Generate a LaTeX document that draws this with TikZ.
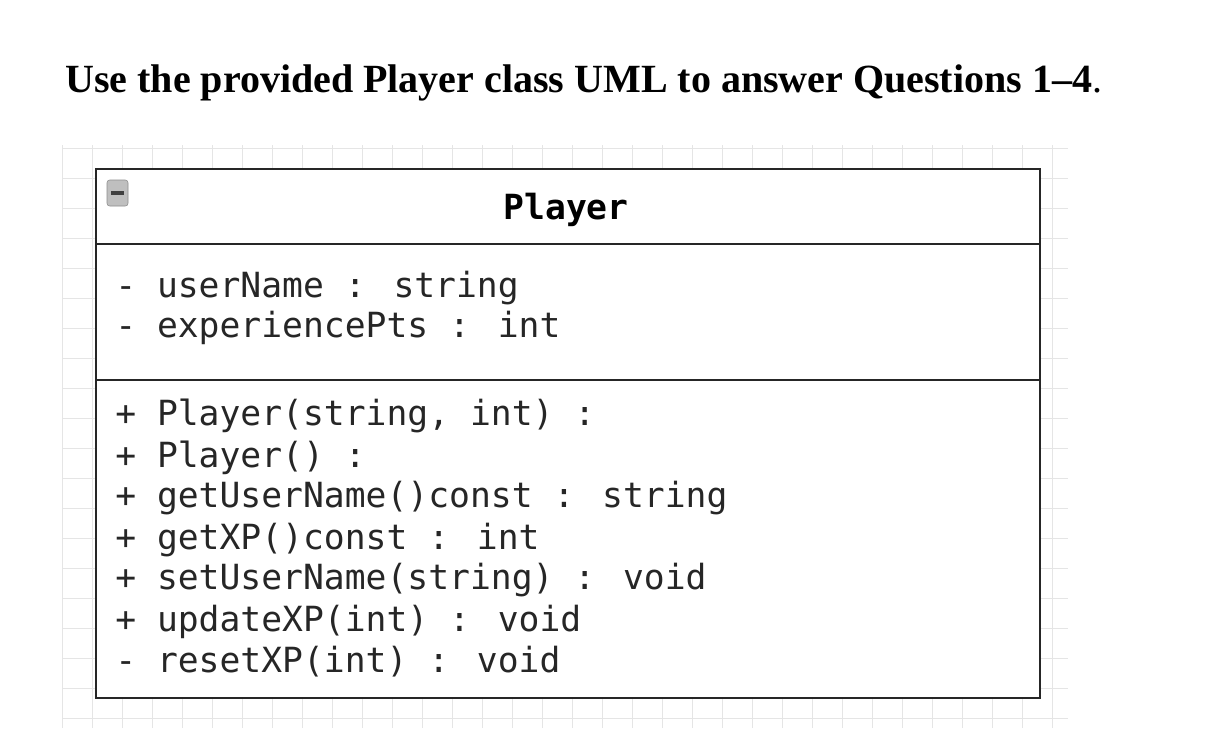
\documentclass[tikz,border=0pt]{standalone}
\usepackage{fontspec}
\setmainfont{Liberation Serif}
\newfontfamily\umlmono{DejaVu Sans Mono}
\begin{document}
\begin{tikzpicture}[x=0.75pt,y=-0.75pt,
  member/.style={anchor=west,inner sep=0pt,font=\umlmono\fontsize{26}{30}\selectfont,text=black!85},
  gridline/.style={draw=black!10,line width=0.6pt}]
\useasboundingbox (0,0) rectangle (1219,754);
\foreach \x in {62,92,...,1062} \draw[gridline] (\x,145) -- (\x,728);
\foreach \y in {148,178,...,728} \draw[gridline] (62,\y) -- (1068,\y);
\node[anchor=base west,inner sep=0pt,font=\fontsize{30}{33}\selectfont\bfseries] (title) at (65,92) {Use the provided Player class UML to answer Questions 1--4\textmd{.}};
\fill[white] (96,169) rectangle (1040,698);
\draw[line width=1.6pt,black!85] (96,169) rectangle (1040,698);
\draw[line width=1.6pt,black!85] (96,244) -- (1040,244);
\draw[line width=2.2pt,black!85] (96,380) -- (1040,380);
\draw[rounded corners=2pt,fill=black!25,draw=black!45] (107,180) rectangle (128,206);
\draw[line width=3pt,black!75] (111,193) -- (124,193);
\node[font=\umlmono\bfseries\fontsize{26}{30}\selectfont] (cls) at (566,210) {Player};
\node[member] (a1) at (115,288) {- userName : string};
\node[member] (a2) at (115,328) {- experiencePts : int};
\node[member] (m1) at (115,416) {+ Player(string, int) :};
\node[member] (m2) at (115,458) {+ Player() :};
\node[member] (m3) at (115,498) {+ getUserName()const : string};
\node[member] (m4) at (115,540) {+ getXP()const : int};
\node[member] (m5) at (115,580) {+ setUserName(string) : void};
\node[member] (m6) at (115,622) {+ updateXP(int) : void};
\node[member] (m7) at (115,662) {- resetXP(int) : void};
\end{tikzpicture}
\end{document}
